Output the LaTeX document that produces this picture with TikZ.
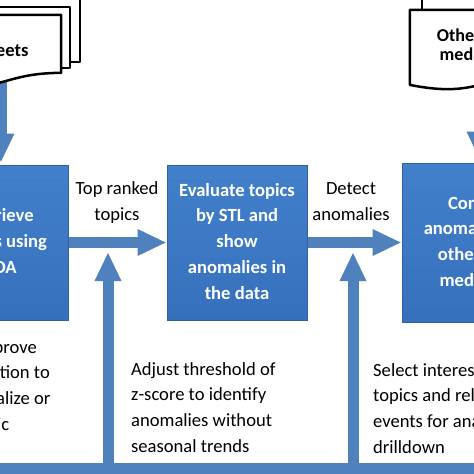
\documentclass[tikz,border=0pt]{standalone}
\usepackage{fontspec}
\setmainfont{Carlito}
\usetikzlibrary{arrows.meta,calc}
\definecolor{arrowblue}{RGB}{79,129,189}
\definecolor{boxtop}{RGB}{66,128,203}
\definecolor{boxbot}{RGB}{54,112,188}
\definecolor{boxline}{RGB}{48,98,160}
\pgfdeclarelayer{bglayer}
\pgfdeclarelayer{arrowlayer}
\pgfdeclarelayer{shapelayer}
\pgfsetlayers{bglayer,arrowlayer,shapelayer,main}
\newcommand\docoutline[1]{%
  \path[docshape] (#1.north west) -- (#1.north east)
    -- ($(#1.north east)!0.802!(#1.south east)$)
    .. controls ($(#1.north)!0.802!(#1.south)$) and ($(#1.north)!1.107!(#1.south)$)
    .. ($(#1.north west)!0.934!(#1.south west)$) -- cycle;}
\begin{document}
\begin{tikzpicture}[x=1pt,y=-1pt,
  stepbox/.style={draw=boxline, line width=0.8pt, top color=boxtop, bottom color=boxbot,
    text=white, font=\bfseries\fontsize{18.6}{25.7}\selectfont, align=center, inner sep=0pt},
  blockarrow/.style={draw=arrowblue, line width=11pt,
    -{Triangle[length=28pt,width=27pt,line width=0pt]}},
  docshape/.style={draw=black, line width=2.5pt, fill=white, line join=round},
  docbox/.style={inner sep=0pt, minimum width=#1},
  doctext/.style={font=\bfseries\fontsize{18.1}{18.5}\selectfont, align=center, inner sep=0pt},
  label/.style={font=\fontsize{18.6}{25.7}\selectfont, align=center, inner sep=0pt},
  note/.style={font=\fontsize{18.6}{25.7}\selectfont, align=left, inner sep=0pt, anchor=north west}]
\useasboundingbox (0,0) rectangle (474,474);
\begin{pgfonlayer}{bglayer}
  \fill[white] (0,0) rectangle (474,474);
\end{pgfonlayer}

% process boxes
\node[stepbox, minimum width=133pt, minimum height=155pt] (lda) at (1.5,242.5)
  {\strut Retrieve\\\strut topics using\\\strut LDA};
\node[stepbox, minimum width=140pt, minimum height=155pt] (stl) at (237,242.5)
  {\strut Evaluate topics\\\strut by STL and\\\strut show\\\strut anomalies in\\\strut the data};
\node[stepbox, minimum width=162pt, minimum height=159pt] (cmp) at (483,242.5)
  {\strut Compare\\\strut anomalies with\\\strut other social\\\strut media data};

% documents
\node[docbox=120pt, minimum height=72pt, doctext, font=\bfseries\fontsize{18.6}{22}\selectfont] (tw) at (1,51) {Tweets};
\node[docbox=140pt, minimum height=80pt] (md) at (480,50) {};
\node[doctext] (mdt) at (482,47.3) {\strut Other social\\\strut media data};

\begin{pgfonlayer}{shapelayer}
  \path[docshape] (-41,-1) rectangle (80,62);
  \path[docshape] (-50,7) rectangle (70,68);
  \docoutline{tw}
  \path[docshape] (422,-5) rectangle (562,70);
  \docoutline{md}
\end{pgfonlayer}

% labels
\node[label] (lab1) at (117,202.7) {\strut Top ranked\\\strut topics};
\node[label] (lab2) at (351,202.7) {\strut Detect\\\strut anomalies};

% feedback texts
\node[note] (n1) at (-47,335) {\strut To improve\\\strut resolution to\\\strut generalize or\\\strut specific};
\node[note] (n2) at (131,357) {\strut Adjust threshold of\\\strut z-score to identify\\\strut anomalies without\\\strut seasonal trends};
\node[note] (n3) at (373,358) {\strut Select interesting\\\strut topics and related\\\strut events for analysis\\\strut drilldown};

\coordinate (bar1) at (108,468);
\coordinate (bar2) at (353,468);
\coordinate (tip1) at (108,253);
\coordinate (tip2) at (353,253);

\begin{pgfonlayer}{arrowlayer}
  \fill[arrowblue] (-10,463) rectangle (484,480);
  \draw[blockarrow] (tw.center) -- ($(tw.center |- lda.north)+(0,-3)$);
  \draw[blockarrow] (md.center) -- ($(md.center |- cmp.north)+(0,-3)$);
  \draw[blockarrow, shorten >=1pt] (lda.east) -- (stl.west);
  \draw[blockarrow, shorten >=1pt] (stl.east) -- (cmp.west);
  \draw[blockarrow] (bar1) -- (tip1);
  \draw[blockarrow] (bar2) -- (tip2);
\end{pgfonlayer}
\end{tikzpicture}
\end{document}
